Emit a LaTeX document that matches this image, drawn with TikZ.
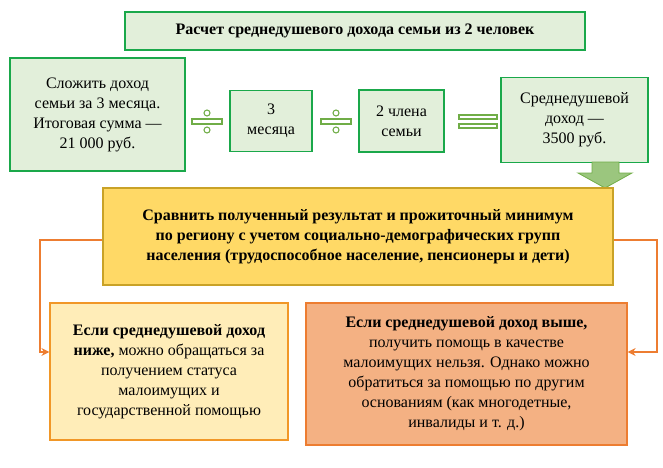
\documentclass[tikz,border=0pt]{standalone}
\usepackage{fontspec}
\setmainfont{LiberationSerif}[Extension=.ttf,UprightFont=*-Regular,BoldFont=*-Bold,ItalicFont=*-Italic,BoldItalicFont=*-BoldItalic]
\usetikzlibrary{arrows.meta}
\definecolor{gfill}{HTML}{E2EFDA}
\definecolor{gline}{HTML}{1AA84A}
\definecolor{sym}{HTML}{70AD47}
\definecolor{yfill}{HTML}{FFD966}
\definecolor{yline}{HTML}{C9A227}
\definecolor{lyfill}{HTML}{FFE699}
\definecolor{sfill}{HTML}{F4B183}
\definecolor{oline}{HTML}{ED7D31}
\begin{document}
\begin{tikzpicture}[x=0.75pt,y=-0.75pt,
  gbox/.style={draw=gline,fill=gfill,line width=0.9pt,align=center,font=\fontsize{12}{15}\selectfont},
  obox/.style={draw=yline,line width=0.9pt,align=center,font=\fontsize{12}{15}\selectfont},
  conn/.style={draw=oline,line width=1.1pt,-{Stealth[length=6pt,width=6pt]}}]
\useasboundingbox (0,0) rectangle (663,467);
\node[gbox,minimum width=460*0.75pt,minimum height=38*0.75pt] (t) at (355,31) {\textbf{Расчет среднедушевого дохода семьи из 2 человек}};
\node[gbox,minimum width=175*0.75pt,minimum height=113*0.75pt] (b1) at (97.5,114.5) {Сложить доход\\семьи за 3 месяца.\\Итоговая сумма —\\21 000 руб.};
\node[gbox,minimum width=82*0.75pt,minimum height=61*0.75pt] (b2) at (271,121) {3\\месяца};
\node[gbox,minimum width=85*0.75pt,minimum height=62*0.75pt] (b3) at (401.5,121) {2 члена\\семьи};
\node[gbox,minimum width=147*0.75pt,minimum height=85*0.75pt] (b4) at (574.5,120) {Среднедушевой\\доход —\\3500 руб.};
% division signs
\foreach \cx/\nm in {207/d1,336/d2}{
  \draw[sym,line width=0.8pt] (\cx-15,119) rectangle (\cx+15,124);
  \draw[sym,line width=0.8pt] (\cx,113) circle (3);
  \draw[sym,line width=0.8pt] (\cx,130) circle (3);
}
\draw[sym,line width=0.8pt] (459,115) rectangle (497,119);
\draw[sym,line width=0.8pt] (459,124) rectangle (497,128);
% big arrow
\draw[sym,fill=sym!70!white,line width=0.6pt] (592,162) -- (619,162) -- (619,173) -- (632,173) -- (605,188) -- (578,173) -- (592,173) -- cycle;
\node[obox,fill=yfill,minimum width=510*0.75pt,minimum height=97*0.75pt] (y) at (358,236.5) {\textbf{Сравнить полученный результат и прожиточный минимум}\\\textbf{по региону с учетом социально-демографических групп}\\\textbf{населения (трудоспособное население, пенсионеры и дети)}};
\node[obox,draw=oline!80!yellow,fill=lyfill!70!white,minimum width=238*0.75pt,minimum height=137*0.75pt] (l) at (169,371.5) {\textbf{Если среднедушевой доход}\\\textbf{ниже,} можно обращаться за\\получением статуса\\малоимущих и\\государственной помощью};
\node[obox,draw=oline,fill=sfill,minimum width=321*0.75pt,minimum height=142*0.75pt] (r) at (466.5,374) {\textbf{Если среднедушевой доход выше,}\\получить помощь в качестве\\малоимущих нельзя. Однако можно\\обратиться за помощью по другим\\основаниям (как многодетные,\\инвалиды и т. д.)};
\coordinate (lc1) at (40,240); \coordinate (lc2) at (40,352);
\coordinate (rc1) at (657,240); \coordinate (rc2) at (657,352);
\draw[conn] (y.west |- lc1) -- (lc1) -- (lc2) -- (l.west |- lc2);
\draw[conn] (y.east |- rc1) -- (rc1) -- (rc2) -- (r.east |- rc2);
\end{tikzpicture}
\end{document}
